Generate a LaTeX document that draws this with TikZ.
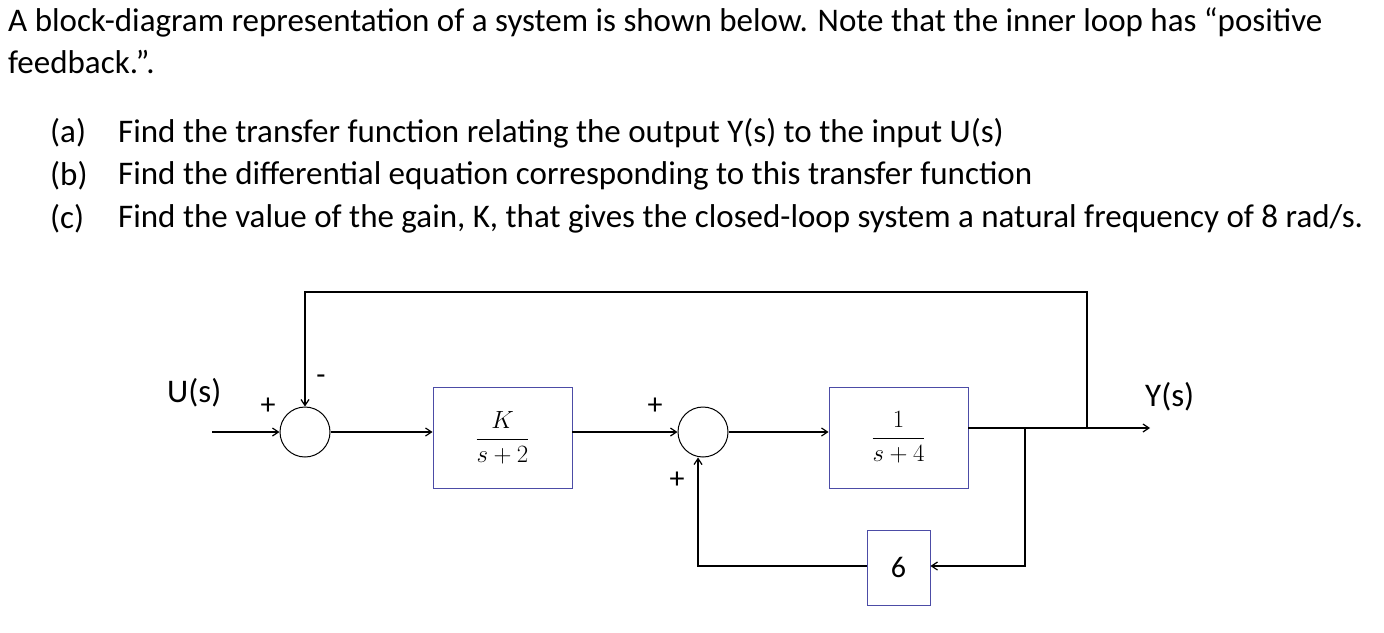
\documentclass[tikz,border=0pt]{standalone}
\usepackage{fontspec}
\setmainfont{Carlito}
\usetikzlibrary{arrows.meta}
\begin{document}
\begin{tikzpicture}[x=1pt,y=-1pt,
  txt/.style={anchor=west,inner sep=0pt,font=\fontsize{33}{36}\selectfont},
  blk/.style={draw=blue!50!black!70,line width=0.9pt,minimum width=139pt,minimum height=101pt,inner sep=0pt},
  sum/.style={draw,circle,line width=1pt,minimum size=50pt,inner sep=0pt},
  ln/.style={line width=1.2pt},
  ar/.style={ln,-{Straight Barb[length=6pt,width=8pt]}},
  sg/.style={font=\fontsize{30}{32}\selectfont,inner sep=0pt}]
\useasboundingbox (0,0) rectangle (1384,632);
\node[txt] (t1) at (8,22) {A block-diagram representation of a system is shown below. Note that the inner loop has “positive};
\node[txt] (t2) at (8,62) {feedback.”.};
\node[txt] (la) at (50,133) {(a)}; \node[txt] (ta) at (118,133) {Find the transfer function relating the output Y(s) to the input U(s)};
\node[txt] (lb) at (50,176) {(b)}; \node[txt] (tb) at (118,176) {Find the differential equation corresponding to this transfer function};
\node[txt] (lc) at (50,219) {(c)}; \node[txt] (tc) at (118,219) {Find the value of the gain, K, that gives the closed-loop system a natural frequency of 8 rad/s.};
\node[sum] (s1) at (305,432) {};
\node[sum] (s2) at (703,432) {};
\node[blk] (b1) at (502.5,437.5) {\fontsize{26}{28}\selectfont$\displaystyle\frac{K}{s+2}$};
\node[blk] (b2) at (898.5,437.5) {\fontsize{26}{28}\selectfont$\displaystyle\frac{1}{s+4}$};
\node[blk,minimum width=63pt,minimum height=75pt] (b3) at (898.5,567.5) {\fontsize{30}{32}\selectfont 6};
\node[txt] (u) at (167,393) {U(s)};
\node[txt] (y) at (1145,397) {Y(s)};
\node[sg] (p1) at (268,406) {+};
\node[sg] (m1) at (321,380) {-};
\node[sg] (p2) at (655,406) {+};
\node[sg] (p3) at (677,480) {+};
\coordinate (in) at (212,432);
\coordinate (out) at (1150,428);
\coordinate (br1) at (1087,428);
\coordinate (tr) at (1087,292);
\coordinate (tl) at (305,292);
\coordinate (br2) at (1025,428);
\coordinate (bd) at (1025,566);
\coordinate (bl) at (698,566);
\draw[ar] (in) -- (s1.west);
\draw[ar] (s1.east) -- (b1.west |- s1.east);
\draw[ar] (b1.east |- s2.west) -- (s2.west);
\draw[ar] (s2.east) -- (b2.west |- s2.east);
\draw[ar] (b2.east |- out) -- (out);
\draw[ar] (br1) -- (tr) -- (tl) -- (s1.north);
\draw[ar] (br2) -- (bd) -- (b3.east |- bd);
\draw[ar] (b3.west |- bl) -- (bl) -- (s2.south -| bl);
\end{tikzpicture}
\end{document}
